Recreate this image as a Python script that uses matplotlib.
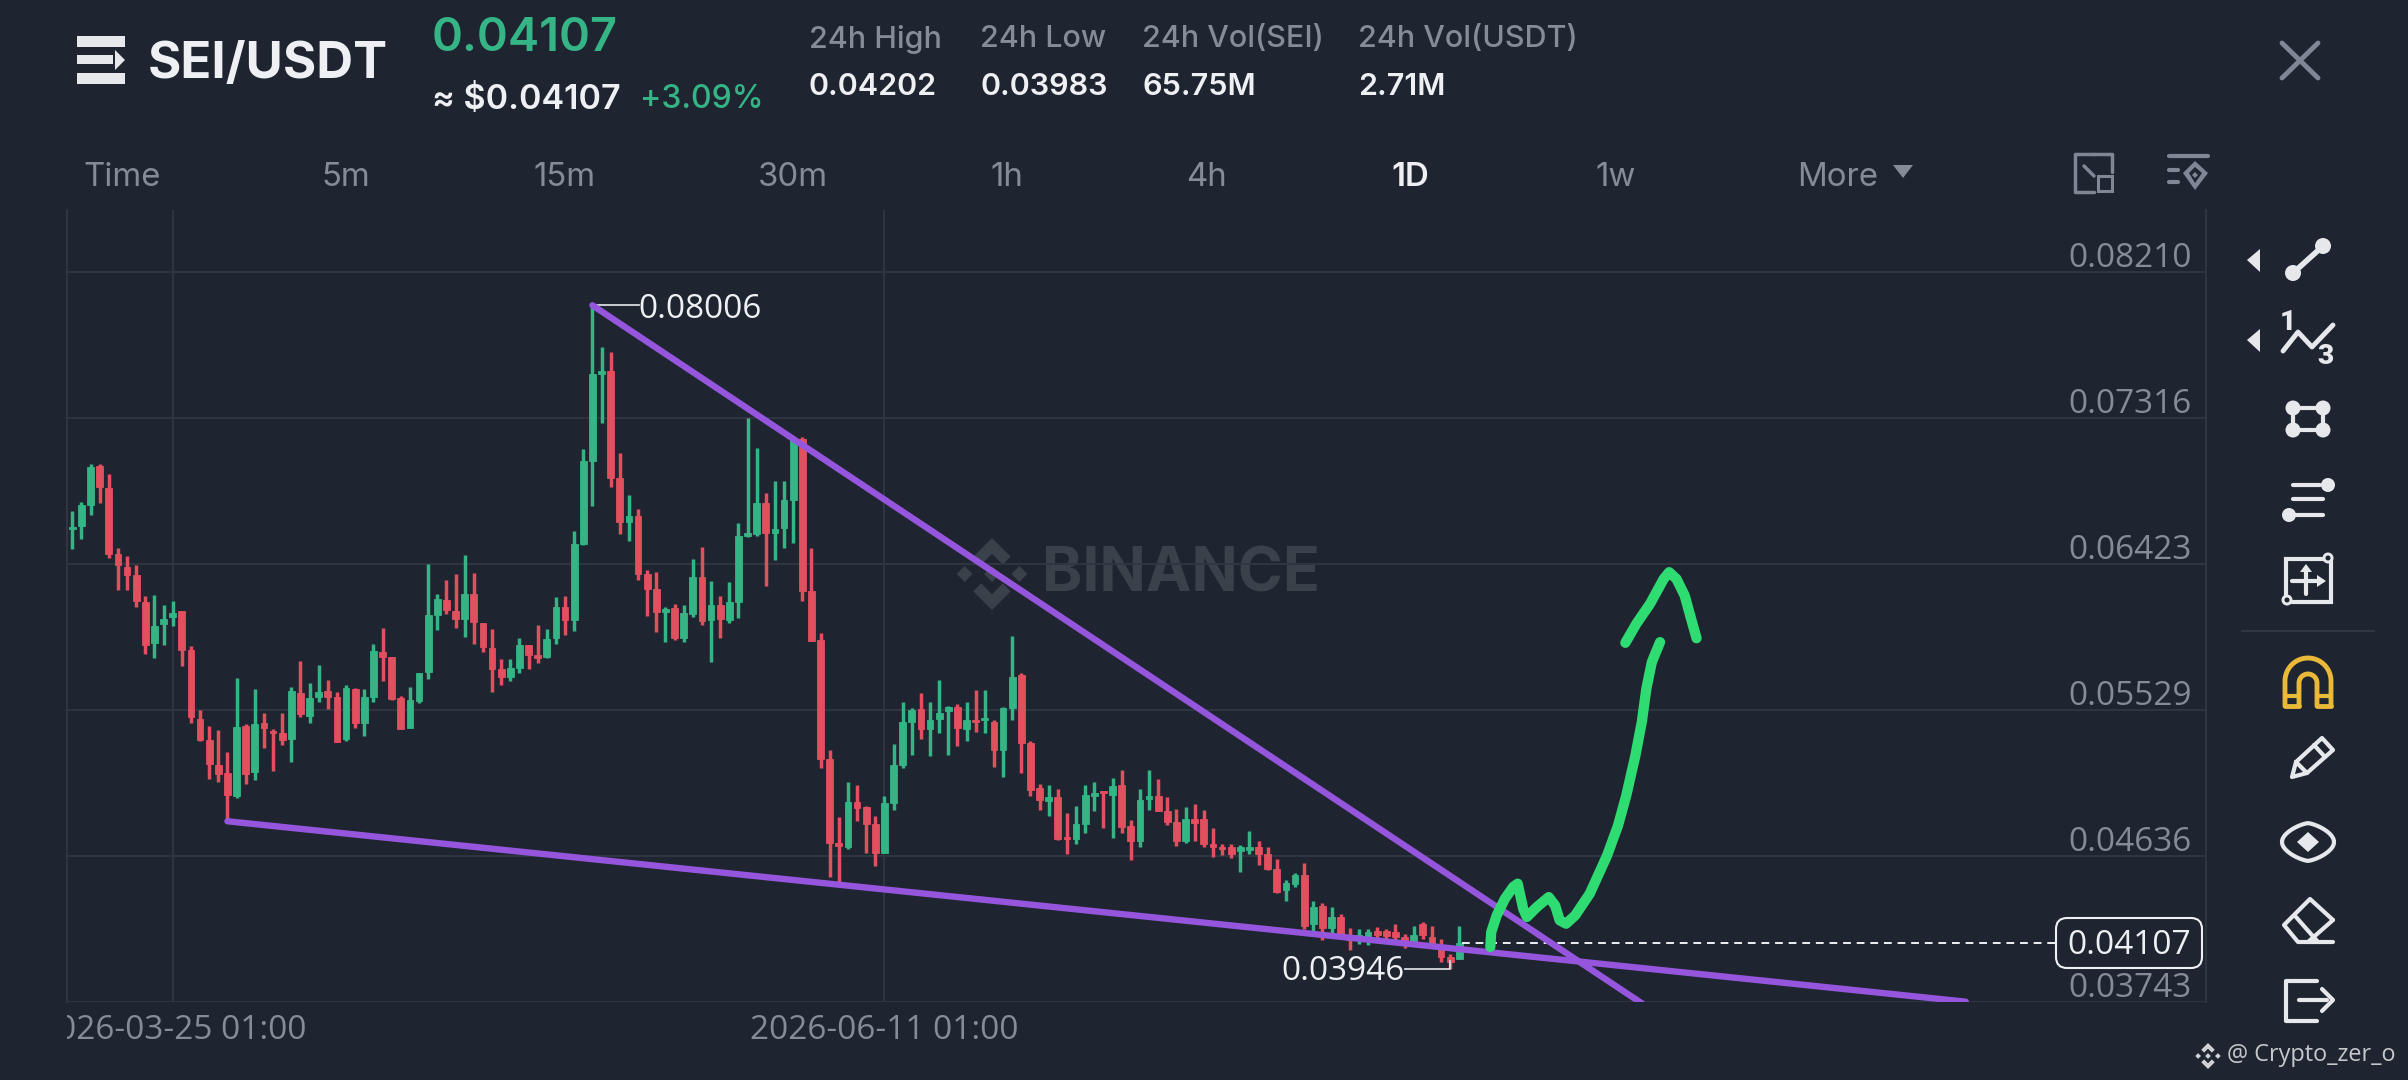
import numpy as np
import matplotlib
matplotlib.use("Agg")
import matplotlib.pyplot as plt
from matplotlib.patches import Polygon, Circle, FancyBboxPatch, Rectangle
from matplotlib.transforms import Bbox, TransformedBbox, IdentityTransform, ScaledTranslation

# Prices in units of 0.00001 USDT, daily candles
highs = [6745,6803,7033,7033,6972,6523,6473,6415,6230,6232,
6174,6195,6134,5921,5532,5434,5406,5275,5724,5443,
5656,5514,5411,5514,5673,5832,5696,5804,5715,5640,
5684,5663,5656,5935,6033,5855,5617,5673,5757,6424,
6239,6324,6359,6476,6366,6061,6024,5844,5841,5972,
5930,6047,6024,6223,6225,6624,7126,8006,7748,7723,
7104,6844,6762,6385,6375,6158,6178,6175,6452,6527,
6320,6225,6315,6674,7318,7131,6857,6931,6934,7189,
7199,6520,6001,5284,4877,5089,5072,4940,4882,5002,
5322,5581,5541,5631,5581,5713,5554,5564,5581,5654,
5654,5466,5546,5981,5758,5339,5077,5068,5044,4901,
4942,5073,5089,5036,5115,5162,4856,5044,5162,5105,
4997,4926,4934,4954,4920,4808,4712,4710,4701,4787,
4728,4691,4620,4491,4530,4593,4359,4351,4326,4283,
4196,4192,4188,4200,4192,4218,4161,4208,4231,4206,
4127,4039,4208]
opens = [6635,6658,6787,7024,6890,6483,6403,6354,6188,5937,
6054,6096,6134,5897,5476,5345,5195,5144,5001,5434,
5148,5448,5404,5392,5350,5635,5492,5607,5645,5607,
5350,5659,5448,5612,5886,5853,5605,5420,5586,5762,
6113,6202,6136,6085,6239,6061,5912,5778,5734,5785,
5926,5865,5855,5968,6158,6083,6545,7056,7588,7603,
6949,6682,6719,6360,6270,6130,6155,5971,6120,6345,
6083,6175,6083,6190,6595,6607,6794,6615,6644,6814,
7189,6258,5956,5227,4713,4693,4967,4935,4830,4655,
4960,5192,5456,5534,5414,5476,5521,5546,5416,5471,
5466,5459,5287,5539,5741,5327,5052,4971,4997,4754,
4738,4834,5003,5032,5007,5068,4820,4726,4983,5003,
4910,4844,4726,4861,4861,4712,4691,4691,4669,4671,
4689,4648,4555,4426,4467,4518,4222,4330,4196,4261,
4155,4141,4147,4175,4175,4171,4141,4100,4222,4141,
4094,4018,4008]
closes = [6651,6787,7014,6895,6483,6417,6356,6197,5926,6043,
6085,6125,5897,5485,5345,5200,5139,5008,5425,5141,
5443,5418,5387,5345,5645,5504,5602,5640,5607,5336,
5663,5448,5610,5888,5855,5598,5415,5593,5757,6108,
6207,6141,6085,6239,6066,5916,5780,5734,5785,5930,
5867,5846,5965,6160,6083,6545,7054,7588,7603,6949,
6682,6714,6360,6270,6130,6150,5971,6125,6345,6075,
6175,6088,6190,6595,6615,6794,6615,6639,6814,7179,
6260,5951,5229,4713,4698,4967,4932,4832,4653,4960,
5192,5454,5531,5414,5471,5514,5546,5421,5471,5454,
5481,5287,5541,5733,5327,5042,4977,4997,4742,4738,
4834,5007,5024,5020,5062,4814,4726,4981,5003,4914,
4844,4726,4861,4840,4710,4689,4677,4651,4689,4689,
4648,4555,4416,4471,4518,4208,4324,4196,4261,4155,
4120,4151,4171,4151,4147,4141,4100,4151,4151,4100,
4018,3988,4107]
lows = [6516,6574,6726,6796,6459,6265,6265,6157,5874,5846,
5926,6043,5797,5448,5340,5106,5090,4849,4989,5076,
5099,5296,5158,5317,5209,5488,5448,5577,5537,5333,
5340,5418,5368,5577,5708,5591,5411,5418,5572,5720,
6022,6118,6033,5977,5935,5883,5640,5680,5710,5755,
5778,5818,5848,5935,5990,6015,6540,6777,7283,6892,
6605,6562,6325,6105,6008,5943,5961,5946,6100,6050,
5821,5971,6060,6090,6590,6595,6288,6445,6520,6552,
6195,5951,5172,4510,4473,4680,4852,4655,4573,4653,
4917,5172,5252,5354,5247,5391,5252,5312,5339,5394,
5391,5184,5122,5469,5142,5002,4917,4881,4732,4651,
4710,4779,4909,4808,4748,4779,4610,4693,4918,4910,
4824,4695,4718,4728,4693,4632,4640,4624,4538,4651,
4579,4551,4412,4359,4447,4192,4167,4120,4161,4151,
4059,4100,4094,4131,4120,4114,4073,4090,4131,4090,
3988,3946,4004]

price_ticks = [0.08210, 0.07316, 0.06423, 0.05529, 0.04636, 0.03743]
price_tick_labels = ["0.08210", "0.07316", "0.06423", "0.05529", "0.04636", "0.03743"]
date_tick_index = [11, 89]
date_tick_labels = ["2026-03-25 01:00", "2026-06-11 01:00"]

last_price = 0.04107
peak_index, peak_price = 57, 0.08006
trough_index, trough_price = 151, 0.03946

# Trend lines: (candle index, price)
lower_trend_x = [17, 207.5]
lower_trend_y = [0.04849, 0.03745]
upper_trend_x = [57, 172]
upper_trend_y = [0.08006, 0.03735]

# Hand-drawn arrow: (candle index, price in 0.00001)
arrow_x = [155.4,155.5,156.1,157.0,157.9,158.4,158.6,159.0,159.4,160.5,161.8,162.5,
           163.0,163.7,164.7,166.3,168.2,169.4,170.3,171.3,172.0,172.5,173.1,174.0]
arrow_y = [4080,4171,4273,4375,4447,4467,4416,4314,4263,4324,4385,4334,
           4243,4222,4273,4406,4640,4824,5007,5252,5456,5660,5823,5945]
head_x = [170.2,171.4,172.9,174.4,175.0,175.8,176.7,177.4,178.0]
head_y = [5941,6057,6179,6332,6373,6332,6230,6088,5969]

BG = "#1E2530"
GRID = "#303743"
GREEN = "#35B485"
RED = "#E2505F"
PURPLE = "#9556DD"
BRIGHT = "#2FDC72"
MUTED = "#858C98"
WHITE = "#EEF0F3"
ICON = "#E6E8EC"
SANS = "Inter"
OPEN = "Open Sans"

W, H = 2408, 1080
fig = plt.figure(figsize=(W / 100, H / 100), dpi=100, facecolor=BG)

def overlay(z):
    a = fig.add_axes([0, 0, 1, 1], zorder=z)
    a.set_xlim(0, W)
    a.set_ylim(H, 0)
    a.axis("off")
    a.patch.set_alpha(0)
    return a

back = overlay(0)
front = overlay(5)

# ---- chart axes ----
L, R, T, B = 66.7, 2206.0, 210.0, 1002.0
ax = fig.add_axes([L / W, (H - B) / H, (R - L) / W, (B - T) / H], zorder=2)
ax.patch.set_alpha(0)
ax.set_xlim((L - 72.3) / 9.125, (R - 72.3) / 9.125)
ax.set_ylim(0.03743, 0.03743 + (B - T) * 6.119e-5)
for s in ["top", "bottom"]:
    ax.spines[s].set_visible(False)
ax.spines["left"].set_color(GRID)
ax.spines["right"].set_color(GRID)
ax.spines["left"].set_linewidth(1.4)
ax.spines["right"].set_linewidth(1.4)
ax.set_yticks(price_ticks, price_tick_labels)
ax.set_xticks(date_tick_index, date_tick_labels)
ax.grid(True, color=GRID, lw=1.3)
ax.set_axisbelow(True)
ax.yaxis.tick_right()
ax.tick_params(axis="y", length=0, pad=-99, labelsize=24, labelcolor=MUTED, labelfontfamily=OPEN)
ax.tick_params(axis="x", length=0, pad=8.5, labelsize=24, labelcolor=MUTED, labelfontfamily=OPEN)
shift = ScaledTranslation(0, -3 / 100, fig.dpi_scale_trans)
for lab in ax.get_yticklabels():
    lab.set_va("bottom")
    lab.set_ha("left")
    lab.set_transform(lab.get_transform() + shift)
clipbox = TransformedBbox(Bbox([[L, 0], [R, H]]), IdentityTransform())
for lab in ax.get_xticklabels():
    lab.set_clip_box(clipbox)
    lab.set_clip_on(True)

idx = np.arange(len(highs))
hi = np.array(highs) / 1e5
lo = np.array(lows) / 1e5
op = np.array(opens) / 1e5
cl = np.array(closes) / 1e5
colors = [GREEN if c >= o else RED for o, c in zip(op, cl)]
ax.vlines(idx, lo, hi, colors=colors, lw=2.5, zorder=3)
ax.bar(idx, np.abs(cl - op), bottom=np.minimum(op, cl), width=0.74, color=colors,
       edgecolor=colors, lw=0.6, zorder=4)

ax.plot(lower_trend_x, lower_trend_y, color=PURPLE, lw=4.6, zorder=6, solid_capstyle="round")
ax.plot(upper_trend_x, upper_trend_y, color=PURPLE, lw=4.6, zorder=6, solid_capstyle="round")
ax.plot(arrow_x, np.array(arrow_y) / 1e5, color=BRIGHT, lw=7.4, zorder=7,
        solid_capstyle="round", solid_joinstyle="round")
ax.plot(head_x, np.array(head_y) / 1e5, color=BRIGHT, lw=7.4, zorder=7,
        solid_capstyle="round", solid_joinstyle="round")

# extreme labels
ax.plot([peak_index, peak_index + 5.1], [peak_price, peak_price], color="#D8DADF", lw=1.3, zorder=5)
ax.text(peak_index + 5.0, peak_price - 0.00024, "0.08006", color=WHITE, fontsize=24, family=OPEN,
        ha="left", va="center", zorder=8)
ax.plot([trough_index - 5.0, trough_index, trough_index],
        [trough_price, trough_price, trough_price + 0.0005], color="#D8DADF", lw=1.3, zorder=5)
ax.text(trough_index - 5.0, trough_price - 0.00016, "0.03946", color=WHITE, fontsize=24, family=OPEN,
        ha="right", va="center", zorder=8)
# last price
ax.plot([152.3, 217.5], [last_price, last_price], color=WHITE, lw=1.4, dashes=(4, 3), zorder=5)

# ---- helpers in figure pixels ----
def txt(x, y, s, px, color, ha="left", weight="normal", family=SANS, a=front, z=10):
    a.text(x, y + 3, s, fontsize=px * 0.72, color=color, ha=ha, va="center",
           fontweight=weight, family=family, zorder=z)

def line(xs, ys, color=ICON, lw=3.5, a=front):
    a.plot(xs, ys, color=color, lw=lw, solid_capstyle="round", solid_joinstyle="round")

def dot(x, y, r, color=ICON):
    front.add_patch(Circle((x, y), r, color=color, lw=0))

def poly(pts, color=ICON, a=front):
    a.add_patch(Polygon(pts, closed=True, color=color, lw=0))

def logo(a, cx, cy, s, color):
    top = [(0, -1), (.52, -.48), (.3, -.26), (0, -.56), (-.3, -.26), (-.52, -.48)]
    bot = [(x, -y) for x, y in top]
    dia = [(0, -.22), (.22, 0), (0, .22), (-.22, 0)]
    poly([(cx + s * x, cy + s * y) for x, y in top], color, a)
    poly([(cx + s * x, cy + s * y) for x, y in bot], color, a)
    poly([(cx + s * x, cy + s * y) for x, y in dia], color, a)
    poly([(cx - .76 * s + s * x, cy + s * y) for x, y in dia], color, a)
    poly([(cx + .76 * s + s * x, cy + s * y) for x, y in dia], color, a)

# watermark
logo(back, 992, 574, 36, "#3A414B")
txt(1042, 572, "BINANCE", 61, "#3A414B", weight="bold", a=back)

# ---- header ----
front.add_patch(Rectangle((77, 36), 48, 11, color=ICON, lw=0))
front.add_patch(Rectangle((77, 73), 48, 11, color=ICON, lw=0))
front.add_patch(Rectangle((77, 55), 36, 9, color=ICON, lw=0))
poly([(115, 50), (125, 60), (115, 70)], ICON)

txt(148, 61, "SEI/USDT", 51, WHITE, weight="bold")
txt(432, 36, "0.04107", 47, GREEN, weight="semibold")
txt(432, 97, "≈ $0.04107", 34, WHITE, weight="semibold")
txt(640, 97, "+3.09%", 32, GREEN, weight="medium")
heads = [(809, "24h High", "0.04202"), (980, "24h Low", "0.03983"),
         (1142, "24h Vol(SEI)", "65.75M"), (1358, "24h Vol(USDT)", "2.71M")]
for x, a_, b_ in heads:
    txt(x, 36, a_, 30.5, MUTED, weight="medium")
    txt(x, 84, b_, 30.5, WHITE, weight="semibold")
line([2282, 2318], [43, 78], "#7F8794", 3.5)
line([2318, 2282], [43, 78], "#7F8794", 3.5)

# tabs
tabs = [(122, "Time"), (346, "5m"), (565, "15m"), (793, "30m"), (1007, "1h"), (1206, "4h"), (1616, "1w"), (1838, "More")]
for x, s in tabs:
    txt(x, 174, s, 33, MUTED, ha="center")
txt(1410, 174, "1D", 33, WHITE, ha="center", weight="semibold")
poly([(1893, 165), (1913, 165), (1903, 178)], MUTED)
# small header icons
c = "#7F8794"
line([2094, 2075, 2075, 2094], [154, 154, 192, 192], c, 2.5)
line([2094, 2112, 2112], [154, 154, 172], c, 2.5)
line([2084, 2094], [166, 176], c, 2.5)
front.add_patch(Rectangle((2098, 176), 14, 15, fill=False, ec=c, lw=2.2))
line([2169, 2208], [156, 156], c, 3)
line([2169, 2178], [170, 170], c, 3)
line([2169, 2178], [182, 182], c, 3)
poly([(2195, 161), (2208, 173), (2195, 190), (2183, 173)], c)
poly([(2195, 167), (2202, 173), (2195, 183), (2189, 173)], BG)
poly([(2195, 172), (2198, 175), (2195, 178), (2192, 175)], c)

# price tag
front.add_patch(FancyBboxPatch((2056, 918), 146, 50, boxstyle="round,pad=0,rounding_size=11",
                               fc=BG, ec=WHITE, lw=1.5, zorder=5))
txt(2129, 943, "0.04107", 33.5, WHITE, ha="center", family=OPEN, z=11)

# ---- tool bar ----
poly([(2260, 249), (2260, 272), (2247, 260)], ICON)
poly([(2260, 329), (2260, 352), (2247, 340)], ICON)
line([2293, 2323], [273, 246], lw=4)
dot(2293, 273, 8)
dot(2323, 246, 8)
# 1/3 icon
line([2283, 2298, 2312, 2333], [351, 332, 347, 325], lw=3.5)
txt(2288, 320, "1", 28, ICON, ha="center", weight="black", family="Roboto")
txt(2326, 354, "3", 28, ICON, ha="center", weight="black", family="Roboto")
# rectangle tool
front.add_patch(Rectangle((2293, 408), 30, 22, fill=False, ec=ICON, lw=3))
for x, y in [(2293, 408), (2323, 408), (2293, 430), (2323, 430)]:
    dot(x, y, 7.5)
# parallel lines
line([2293, 2320], [485, 485], lw=3)
line([2293, 2323], [499, 499], lw=3)
line([2289, 2323], [515, 515], lw=3)
dot(2328, 485, 7)
dot(2289, 515, 7)
# box + arrows
front.add_patch(Rectangle((2286, 559), 45, 43, fill=False, ec=ICON, lw=3))
dot(2328, 558, 5.5); dot(2287, 600, 5.5)
dot(2328, 558, 2.5, BG); dot(2287, 600, 2.5, BG)
line([2292, 2322], [581, 581], lw=3)
line([2306, 2306], [568, 594], lw=3)
poly([(2300, 572), (2306, 564), (2312, 572)])
poly([(2317, 575), (2326, 581), (2317, 587)])
# separator
line([2242, 2374], [631, 631], GRID, 1.6)
# magnet
YEL = "#EAB938"
th = np.linspace(np.pi, 2 * np.pi, 40)
line(np.r_[2285, 2308 + 23 * np.cos(th), 2331], np.r_[706, 681 + 23 * np.sin(th), 706], YEL, 3.5)
line(np.r_[2299, 2308 + 9 * np.cos(th), 2317], np.r_[706, 683 + 9 * np.sin(th), 706], YEL, 3.5)
line([2285, 2299], [706, 706], YEL, 3.5)
line([2317, 2331], [706, 706], YEL, 3.5)
line([2285, 2299], [696, 696], YEL, 3)
line([2317, 2331], [696, 696], YEL, 3)
# pencil
line([2296, 2322, 2333, 2307, 2292, 2296], [762, 738, 750, 773, 777, 762], ICON, 3)
line([2314, 2325], [745, 757], ICON, 3)
line([2296, 2307], [762, 773], ICON, 3)
# eye
t = np.linspace(0, 2 * np.pi, 60)
line(2308 + 26 * np.cos(t), 842 + 19 * np.sin(t) * (1 - 0.25 * np.abs(np.cos(t))), ICON, 3)
poly([(2308, 832), (2319, 842), (2308, 852), (2297, 842)])
# eraser
line([2333, 2310, 2284, 2298, 2333], [920, 899, 925, 942, 942], ICON, 3)
line([2333, 2308], [920, 942], ICON, 3)
line([2296, 2318], [917, 942], ICON, 3)
# exit
line([2317, 2286, 2286, 2317], [981, 981, 1021, 1021], ICON, 3)
line([2299, 2327], [1000, 1000], ICON, 3)
line([2322, 2333, 2322], [989, 1000, 1011], ICON, 3)

# footer
logo(front, 2208, 1056, 13, "#D0D2D6")
txt(2227, 1052, "@ Crypto_zer_o", 23.5, "#C6C8CC", family=OPEN)

fig.savefig("out.png", dpi=100, facecolor=BG)
